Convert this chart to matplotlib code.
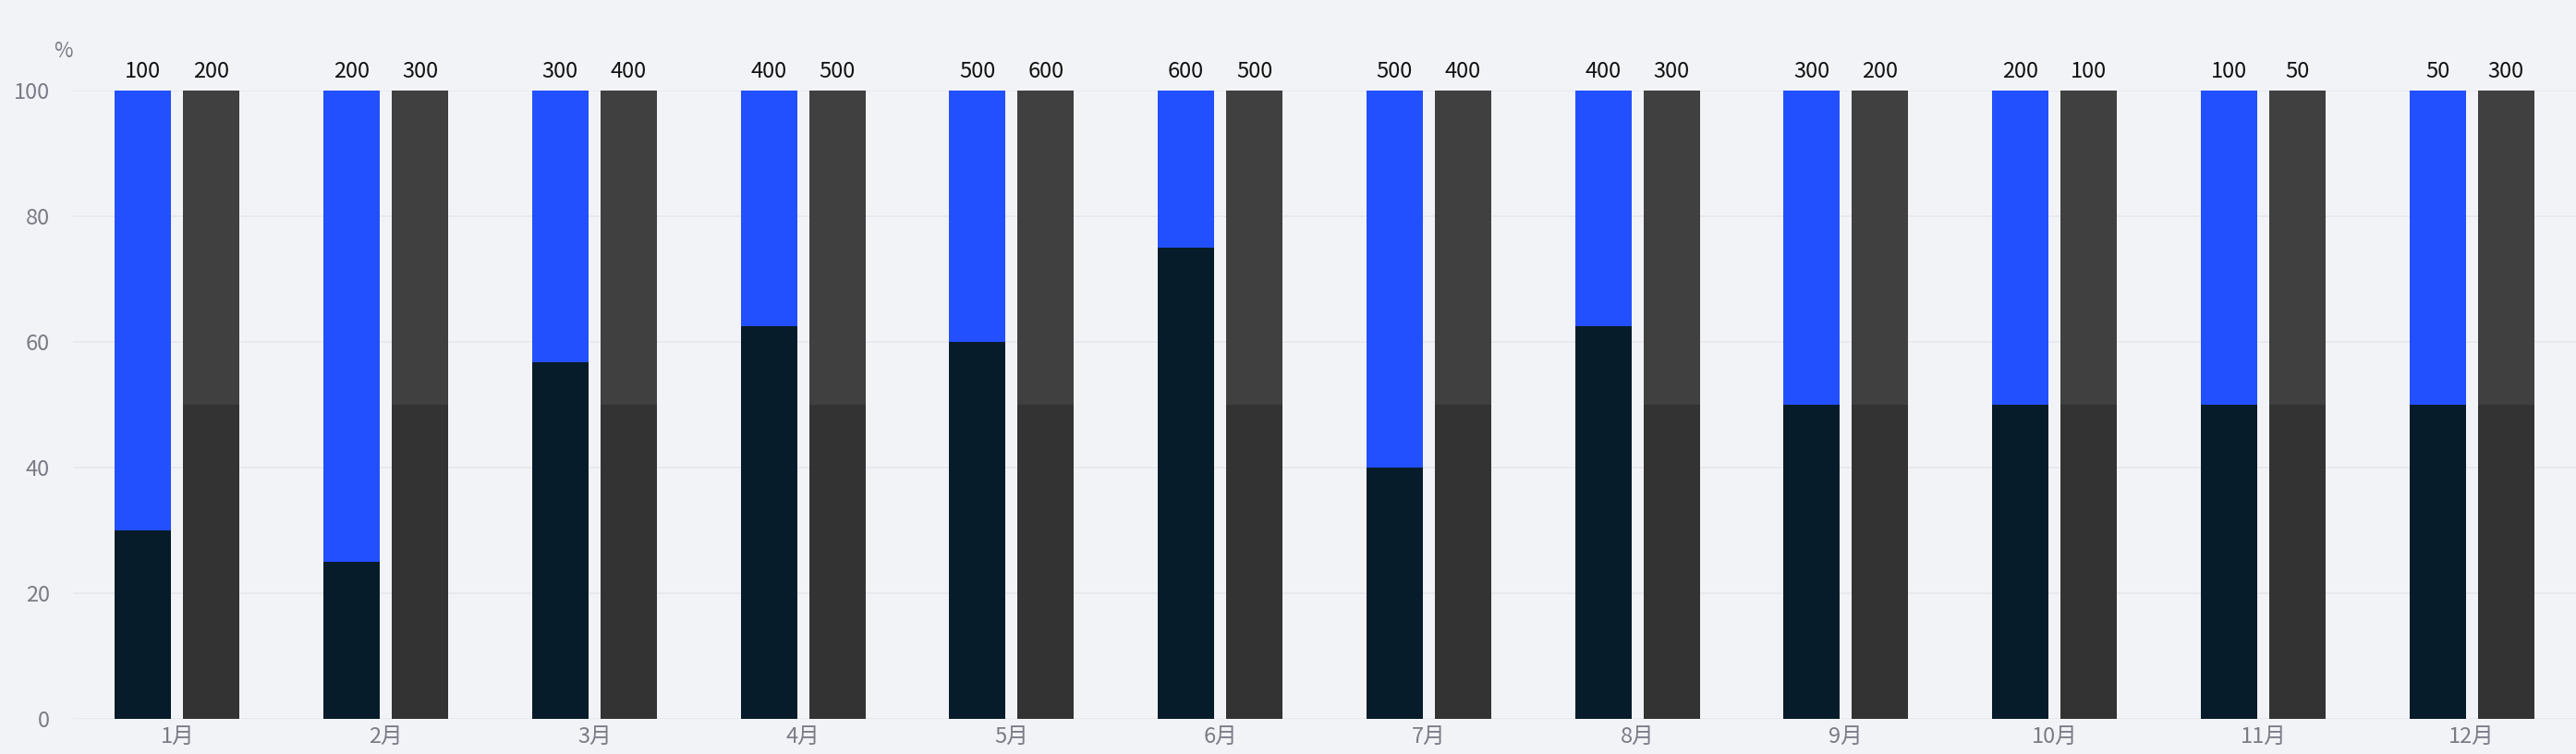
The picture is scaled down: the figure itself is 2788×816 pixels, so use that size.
import numpy as np
import matplotlib
matplotlib.use("Agg")
from matplotlib import pyplot as plt

plt.rcParams['font.family'] = ['Noto Sans CJK SC', 'DejaVu Sans']

months = ['1月', '2月', '3月', '4月', '5月', '6月', '7月', '8月', '9月', '10月', '11月', '12月']
label_a = [100, 200, 300, 400, 500, 600, 500, 400, 300, 200, 100, 50]
label_b = [200, 300, 400, 500, 600, 500, 400, 300, 200, 100, 50, 300]
# percentage of the dark lower part in each bar
low_a = [30, 25, 56.7, 62.5, 60, 75, 40, 62.5, 50, 50, 50, 50]
low_b = [50, 50, 50, 50, 50, 50, 50, 50, 50, 50, 50, 50]

BG = '#f2f3f7'
fig = plt.figure(figsize=(27.88, 8.16), dpi=100, facecolor=BG)
ax = fig.add_axes([79 / 2788, 1 - 778 / 816, 1 - 79 / 2788, (778 - 98) / 816])
ax.set_facecolor(BG)

x = np.arange(len(months))
w = 0.27
off = 0.164
low_a = np.array(low_a)
low_b = np.array(low_b)

ax.bar(x - off, low_a, w, color='#061c2a', zorder=3)
ax.bar(x - off, 100 - low_a, w, bottom=low_a, color='#2250ff', zorder=3)
ax.bar(x + off, low_b, w, color='#333333', zorder=3)
ax.bar(x + off, 100 - low_b, w, bottom=low_b, color='#404040', zorder=3)

for i in range(len(months)):
    ax.text(x[i] - off, 101.3, str(label_a[i]), ha='center', va='bottom', fontsize=17, color='#111111')
    ax.text(x[i] + off, 101.3, str(label_b[i]), ha='center', va='bottom', fontsize=17, color='#111111')

ax.set_xlim(-0.5, 11.5)
ax.set_ylim(0, 100)
ax.set_yticks([0, 20, 40, 60, 80, 100])
ax.set_xticks(x)
ax.set_xticklabels(months)
ax.tick_params(axis='both', length=0, labelsize=17, labelcolor='#7a7b85')
ax.tick_params(axis='y', pad=18)
ax.tick_params(axis='x', pad=6)
ax.grid(axis='y', color='#e6e6ee', linewidth=1.2, zorder=0)
for s in ax.spines.values():
    s.set_visible(False)
ax.text(-0.5, 104.5, '%', ha='right', va='bottom', fontsize=16, color='#7a7b85')

fig.savefig('out.png', dpi=100, facecolor=BG)
